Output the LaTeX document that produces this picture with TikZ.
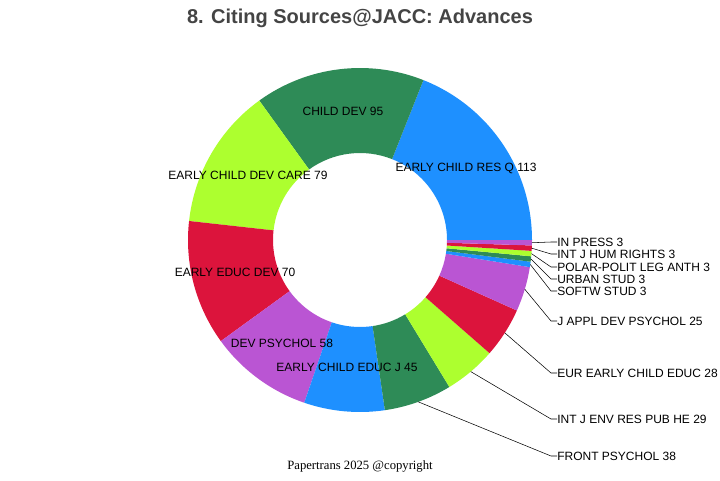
\documentclass[tikz,border=0pt]{standalone}
\usepackage{fontspec}
\setmainfont{Liberation Sans}
\newfontfamily\footfont{Liberation Serif}
\definecolor{cA}{HTML}{1E90FF}
\definecolor{cB}{HTML}{2E8B57}
\definecolor{cC}{HTML}{ADFF2F}
\definecolor{cD}{HTML}{DC143C}
\definecolor{cE}{HTML}{BA55D3}
\definecolor{titlegray}{HTML}{444444}
\begin{document}
\begin{tikzpicture}[x=0.75pt,y=0.75pt,
  lab/.style={font=\fontsize{9}{10}\selectfont,inner sep=0pt},
  olab/.style={lab,anchor=west},
  lead/.style={draw=black,line width=0.4pt}]
\useasboundingbox (0,0) rectangle (720,480);
\coordinate (ctr) at (360,240);
\foreach \a/\b/\c in {0/68.37/cA,68.37/125.85/cB,125.85/173.65/cC,173.65/216.00/cD,216.00/251.09/cE,251.09/278.32/cA,278.32/301.31/cB,301.31/318.86/cC,318.86/335.80/cD,335.80/350.92/cE,350.92/352.74/cA,352.74/354.55/cB,354.55/356.37/cC,356.37/358.18/cD,358.18/360/cE}{
  \fill[\c] (ctr) ++(\a:172) arc[start angle=\a,end angle=\b,radius=172]
    -- ([shift={(\b:87)}]ctr) arc[start angle=\b,end angle=\a,radius=87] -- cycle;
}
\node[lab] (l1) at (466,312) {EARLY CHILD RES Q 113};
\node[lab] (l2) at (343,369) {CHILD DEV 95};
\node[lab] (l3) at (248,305) {EARLY CHILD DEV CARE 79};
\node[lab] (l4) at (235,208) {EARLY EDUC DEV 70};
\node[lab] (l5) at (282,137) {DEV PSYCHOL 58};
\node[lab] (l6) at (347,113) {EARLY CHILD EDUC J 45};
\foreach \n/\m/\y/\t in {p1/359.09/238/IN PRESS 3,p2/357.27/226/INT J HUM RIGHTS 3,p3/355.46/213/POLAR-POLIT LEG ANTH 3,p4/353.64/201/URBAN STUD 3,p5/351.83/189/SOFTW STUD 3,p6/343.36/159/J APPL DEV PSYCHOL 25,p7/327.33/107/EUR EARLY CHILD EDUC 28,p8/310.08/61/INT J ENV RES PUB HE 29,p9/289.8/24/FRONT PSYCHOL 38}{
  \coordinate (s\n) at ([shift={(\m:172)}]ctr);
  \coordinate (k\n) at (551,\y);
  \node[olab] (t\n) at (557,\y) {\t};
  \draw[lead] (s\n) -- (k\n) -- (t\n.west);
}
\node[font=\bfseries\fontsize{15}{18}\selectfont,text=titlegray] (title) at (360,462) {8. Citing Sources@JACC: Advances};
\node[font=\footfont\fontsize{9.5}{11}\selectfont] (foot) at (360,14) {Papertrans 2025 @copyright};
\end{tikzpicture}
\end{document}
